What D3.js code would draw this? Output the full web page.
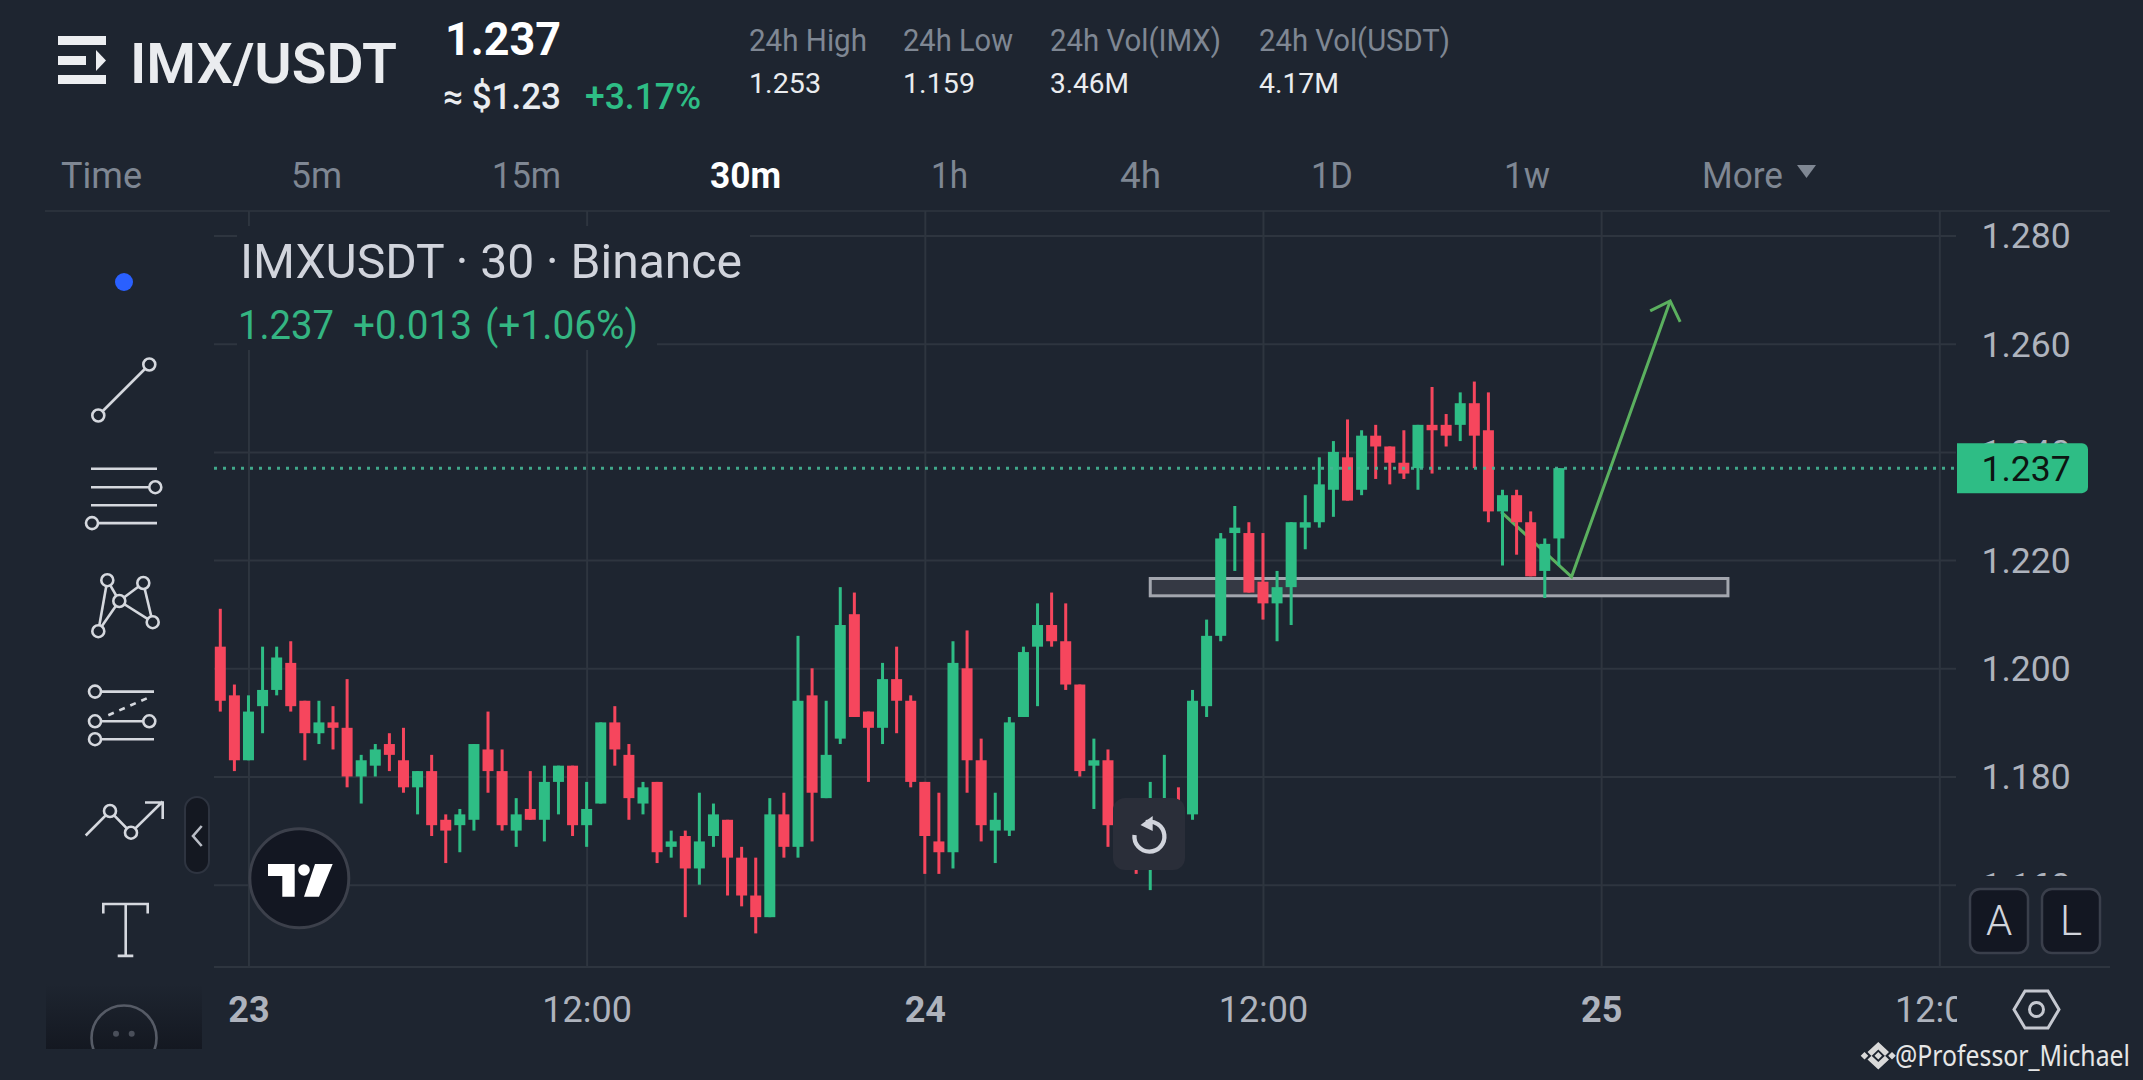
<!DOCTYPE html>
<html><head><meta charset="utf-8">
<style>html,body{margin:0;padding:0;background:#1e2530;overflow:hidden}svg{display:block}</style>
<script src="https://cdn.jsdelivr.net/npm/d3@7/dist/d3.min.js"></script>
</head><body><svg id="c" width="2143" height="1080"></svg>
<script>
const opens=[1.204,1.195,1.183,1.193,1.196,1.201,1.194,1.188,1.190,1.189,
1.180,1.182,1.186,1.183,1.178,1.181,1.172,1.171,1.172,1.185,
1.181,1.170,1.174,1.172,1.179,1.182,1.171,1.175,1.190,1.184,
1.175,1.179,1.167,1.169,1.163,1.169,1.172,1.165,1.158,1.154,
1.173,1.167,1.195,1.176,1.187,1.210,1.192,1.189,1.198,1.194,
1.179,1.168,1.166,1.200,1.183,1.170,1.170,1.191,1.204,1.208,
1.205,1.197,1.182,1.183,1.171,1.174,1.166,1.171,1.174,1.173,
1.193,1.206,1.225,1.225,1.216,1.212,1.215,1.226,1.227,1.233,
1.239,1.233,1.243,1.241,1.238,1.237,1.245,1.245,1.245,1.249,
1.244,1.229,1.232,1.227,1.218,1.224];
const closes=[1.194,1.183,1.192,1.196,1.202,1.193,1.188,1.190,1.189,1.180,
1.183,1.185,1.184,1.178,1.181,1.171,1.170,1.173,1.186,1.181,
1.171,1.173,1.172,1.179,1.182,1.171,1.174,1.190,1.185,1.176,
1.178,1.166,1.168,1.163,1.168,1.173,1.165,1.158,1.154,1.173,
1.167,1.194,1.177,1.184,1.208,1.191,1.189,1.198,1.194,1.179,
1.169,1.166,1.201,1.183,1.171,1.172,1.190,1.203,1.208,1.205,
1.197,1.181,1.183,1.171,1.174,1.166,1.172,1.175,1.172,1.194,
1.206,1.224,1.226,1.214,1.212,1.215,1.227,1.227,1.234,1.240,
1.231,1.243,1.241,1.238,1.236,1.245,1.244,1.243,1.249,1.243,
1.229,1.232,1.227,1.217,1.223,1.237];
const highs=[1.211,1.197,1.195,1.204,1.204,1.205,1.194,1.194,1.193,1.198,
1.184,1.186,1.188,1.189,1.181,1.184,1.173,1.174,1.186,1.192,
1.185,1.176,1.181,1.182,1.182,1.182,1.179,1.190,1.193,1.186,
1.179,1.179,1.170,1.170,1.177,1.175,1.172,1.167,1.165,1.176,
1.177,1.206,1.200,1.194,1.215,1.214,1.192,1.201,1.204,1.195,
1.179,1.177,1.205,1.207,1.187,1.177,1.191,1.204,1.212,1.214,
1.212,1.197,1.187,1.185,1.175,1.175,1.179,1.184,1.178,1.196,
1.209,1.225,1.230,1.227,1.225,1.218,1.227,1.232,1.239,1.242,
1.246,1.244,1.245,1.241,1.244,1.245,1.252,1.247,1.251,1.253,
1.251,1.233,1.233,1.229,1.224,1.237];
const lows=[1.192,1.181,1.183,1.188,1.195,1.192,1.183,1.186,1.185,1.178,
1.175,1.180,1.181,1.177,1.173,1.169,1.164,1.166,1.170,1.177,
1.170,1.167,1.172,1.168,1.173,1.169,1.167,1.175,1.182,1.172,
1.173,1.164,1.165,1.154,1.160,1.167,1.158,1.156,1.151,1.154,
1.165,1.165,1.168,1.176,1.186,1.191,1.179,1.186,1.188,1.178,
1.162,1.162,1.163,1.177,1.168,1.164,1.169,1.191,1.193,1.204,
1.196,1.180,1.174,1.167,1.168,1.162,1.159,1.168,1.170,1.172,
1.191,1.205,1.218,1.214,1.209,1.205,1.208,1.222,1.226,1.228,
1.231,1.232,1.235,1.234,1.235,1.233,1.236,1.241,1.242,1.237,
1.227,1.219,1.221,1.217,1.213,1.219];
const priceTicks=[1.16,1.18,1.20,1.22,1.24,1.26,1.28];
const timeTicks=[2,26,50,74,98,122];
const timeLabels=["23","12:00","24","12:00","25","12:00"];
const lastPrice=1.237;
const zoneBars=[66,107];
const zonePrices=[1.2166,1.2134];
const pathBars=[90.9,95.9,102.9];
const pathPrices=[1.2289,1.2169,1.2679];

const UP="#2ebd85",DOWN="#f6465d",BG="#1e2530",GRID="#2e353f",INK="#d1d4dc",MUTED="#7f8793",AXIS="#aeb3bd",DARK="#131722";
const svg=d3.select("#c");
const x=d3.scaleLinear().domain([0,122]).range([220.3,1939.3]);
const y=d3.scaleLinear().domain([1.16,1.28]).range([884.7,235.5]);
const rowIdx=d3.range(opens.length);

svg.append("rect").attr("width",2143).attr("height",1080).attr("fill",BG);
const defs=svg.append("defs");
defs.append("clipPath").attr("id","xclip").append("rect").attr("x",0).attr("y",975).attr("width",1957).attr("height",70);
defs.append("clipPath").attr("id","yclip").append("rect").attr("x",1957).attr("y",212).attr("width",186).attr("height",664);
const g=defs.append("linearGradient").attr("id","fade").attr("x1",0).attr("x2",0).attr("y1",0).attr("y2",1);
g.append("stop").attr("offset",0).attr("stop-color",BG);
g.append("stop").attr("offset",1).attr("stop-color","#141821");

function T(px,py,s,size,color,o={}){
  const t=svg.append("text").attr("x",o.len?px-1:px).attr("y",py).text(s).attr("font-family",o.family||"Roboto, sans-serif")
   .attr("font-size",size).attr("fill",color).attr("font-weight",o.weight||400).attr("text-anchor",o.anchor||"start");
  if(o.len){t.attr("textLength",o.len+2).attr("lengthAdjust","spacingAndGlyphs");}
  return t;
}

// separator rules
svg.append("line").attr("x1",45).attr("x2",2110).attr("y1",211).attr("y2",211).attr("stroke","#2a313b").attr("stroke-width",2);
svg.append("line").attr("x1",214).attr("x2",2110).attr("y1",967).attr("y2",967).attr("stroke",GRID).attr("stroke-width",2);

// axes with grid
const gy=svg.append("g").attr("transform","translate(1956,0)")
 .call(d3.axisLeft(y).tickValues(priceTicks).tickSize(1742).tickFormat(d3.format(".3f")));
gy.select(".domain").remove();
gy.selectAll("line").attr("stroke",GRID).attr("stroke-width",2);
gy.selectAll("text").remove();
const gx=svg.append("g").attr("transform","translate(0,967)")
 .call(d3.axisTop(x).tickValues(timeTicks).tickSize(756).tickFormat(""));
gx.select(".domain").remove();
gx.selectAll("line").attr("stroke",GRID).attr("stroke-width",2);
gx.selectAll("text").remove();

const gyl=svg.append("g").attr("clip-path","url(#yclip)").append("g").attr("transform","translate(1981.5,0)")
 .call(d3.axisRight(y).tickValues(priceTicks).tickSize(0).tickPadding(0).tickFormat(d3.format(".3f")));
gyl.select(".domain").remove();
gyl.selectAll("text").attr("font-family","Roboto, sans-serif").attr("font-size",35.5).attr("fill",AXIS).attr("dy","0.35em");
const gxl=svg.append("g").attr("clip-path","url(#xclip)").append("g").attr("transform","translate(0,1021.5)")
 .call(d3.axisBottom(x).tickValues(timeTicks).tickSize(0).tickPadding(0).tickFormat((d,i)=>timeLabels[i]));
gxl.select(".domain").remove();
gxl.selectAll("text").attr("font-family","Roboto, sans-serif").attr("font-size",36).attr("fill",AXIS).attr("dy",0)
 .attr("font-weight",(d,i)=>timeLabels[i].length===2?700:400);

// legend plate hides grid behind the title
svg.append("rect").attr("x",237).attr("y",226).attr("width",513).attr("height",66).attr("fill",BG);
svg.append("rect").attr("x",237).attr("y",292).attr("width",420).attr("height",58).attr("fill",BG);

// zone and drawn path under candles
svg.append("rect").attr("x",x(zoneBars[0])).attr("y",y(zonePrices[0]))
 .attr("width",x(zoneBars[1])-x(zoneBars[0])).attr("height",y(zonePrices[1])-y(zonePrices[0]))
 .attr("fill","#353944").attr("stroke","#a3a6ae").attr("stroke-width",3);
const pathPts=pathBars.map((b,i)=>[x(b),y(pathPrices[i])]);
svg.append("path").attr("d",d3.line()(pathPts)).attr("fill","none").attr("stroke","#5bb05f").attr("stroke-width",3);
const tip=pathPts[2];
svg.append("path").attr("d",d3.line()([[tip[0]-20,tip[1]+10],tip,[tip[0]+10,tip[1]+21]])).attr("fill","none").attr("stroke","#5bb05f").attr("stroke-width",3);

// candles
const candle=svg.append("g").selectAll("g").data(rowIdx).join("g")
 .attr("fill",i=>closes[i]>=opens[i]?UP:DOWN);
candle.append("rect").attr("x",i=>x(i)-1.5).attr("width",3)
 .attr("y",i=>y(highs[i])).attr("height",i=>y(lows[i])-y(highs[i]));
candle.append("rect").attr("x",i=>x(i)-5.5).attr("width",11)
 .attr("y",i=>y(Math.max(opens[i],closes[i]))).attr("height",i=>Math.max(3,y(Math.min(opens[i],closes[i]))-y(Math.max(opens[i],closes[i]))));

// last price line and tag
svg.append("line").attr("x1",214).attr("x2",1956).attr("y1",y(lastPrice)).attr("y2",y(lastPrice))
 .attr("stroke","#45b795").attr("stroke-opacity",.9).attr("stroke-width",3).attr("stroke-dasharray","3 6");
const ly=y(lastPrice);
svg.append("path").attr("d",`M1957 ${ly-25}H2082a6 6 0 0 1 6 6V${ly+19}a6 6 0 0 1 -6 6H1957Z`).attr("fill",UP);
T(1981.5,ly+12.5,d3.format(".3f")(lastPrice),35.5,"#0d1512");

// header
const hd=svg.append("g").attr("fill","#eceef1");
hd.append("rect").attr("x",58).attr("y",36).attr("width",48).attr("height",9);
hd.append("rect").attr("x",58).attr("y",56).attr("width",28).attr("height",9);
hd.append("rect").attr("x",58).attr("y",75).attr("width",48).attr("height",9);
hd.append("path").attr("d","M96 50L106 60.5L96 71Z");
T(131,83,"IMX/USDT",56,"#eaecef",{weight:600,len:265});
T(446,55,"1.237",47,"#ffffff",{weight:700,len:114});
T(444,109,"≈ $1.23",36,"#eaecef",{weight:500,len:116});
T(586,109,"+3.17%",36,UP,{weight:500,len:114});
[["24h High",750,116],["24h Low",904,108],["24h Vol(IMX)",1051,169],["24h Vol(USDT)",1260,189]].forEach(d=>T(d[1],51,d[0],32,MUTED,{len:d[2]}));
[["1.253",750,70],["1.159",904,70],["3.46M",1051,77],["4.17M",1260,78]].forEach(d=>T(d[1],93,d[0],28.5,"#eaecef",{len:d[2]}));
[["Time",62,79],["5m",292,49],["15m",493,67],["1h",932,35],["4h",1121,39],["1D",1312,40],["1w",1505,44],["More",1703,79]].forEach(d=>T(d[1],187.5,d[0],36,MUTED,{len:d[2]}));
T(711,187.5,"30m",36,"#ffffff",{weight:700,len:69});
svg.append("path").attr("d","M1797 165H1816L1806.5 178Z").attr("fill",MUTED);

// legend
T(241,278,"IMXUSDT · 30 · Binance",48,"#d1d4dc",{len:500});
const LG="#34b582";
T(239,339,"1.237",40,LG,{len:94});
T(354,339,"+0.013",40,LG,{len:117});
T(486,339,"(+1.06%)",40,LG,{len:151});

// toolbar
svg.append("circle").attr("cx",124).attr("cy",282).attr("r",9).attr("fill","#2a60ff");
const tb=svg.append("g").attr("fill","none").attr("stroke","#d5d8de").attr("stroke-width",2.6);
const seg=(a,b,c,d,o)=>{const l=tb.append("line").attr("x1",a).attr("y1",b).attr("x2",c).attr("y2",d);if(o)l.attr("stroke-dasharray",o);return l;};
const dot=(a,b,r)=>tb.append("circle").attr("cx",a).attr("cy",b).attr("r",r||6).attr("fill",BG);
seg(98.3,415.5,149.3,364.5);dot(98.3,415.5);dot(149.3,364.5);
seg(91,468.8,157,468.8);seg(91,487.2,157,487.2);seg(91,505.2,157,505.2);seg(92,523.1,157,523.1);dot(155.3,487.2);dot(92,523.1);
[[107.3,580.2,98.3,631.2],[107.3,580.2,119.3,601],[119.3,601,98.3,631.2],[119.3,601,143.3,583],[119.3,601,152.7,622.2],[143.3,583,152.7,622.2]].forEach(s=>seg(...s));
[[107.3,580.2],[143.3,583],[119.3,601],[98.3,631.2],[152.7,622.2]].forEach(p=>dot(p[0],p[1]));
seg(95,691.6,154,691.6);seg(95,721.3,154,721.3);seg(95,739.2,154,739.2);seg(108.3,715.2,149.3,697.2,"6 6");
dot(95,691.6);dot(95,721.3);dot(149.3,721.3);dot(95,739.2);
tb.append("path").attr("d","M85.7 835.5L110 811L131 832.7L162.7 801.5M145 802.5H162.7V819");dot(110,811);dot(131,832.7);
tb.append("path").attr("d","M103.3 913.4V904H147.7V913.4M125.7 904V955.9M117.7 955.9H133.3");
svg.append("rect").attr("x",46).attr("y",984).attr("width",156).attr("height",65).attr("fill","url(#fade)");
defs.append("clipPath").attr("id","moreclip").append("rect").attr("x",46).attr("y",984).attr("width",156).attr("height",65);
const more=svg.append("g").attr("clip-path","url(#moreclip)");
more.append("circle").attr("cx",124).attr("cy",1038).attr("r",32.5).attr("fill","none").attr("stroke","#565b66").attr("stroke-width",2.6);
more.append("circle").attr("cx",116).attr("cy",1033.7).attr("r",3).attr("fill","#4a4f5a");
more.append("circle").attr("cx",131.7).attr("cy",1033.7).attr("r",3).attr("fill","#4a4f5a");
svg.append("rect").attr("x",185).attr("y",797).attr("width",24).attr("height",76).attr("rx",12).attr("fill","#141821").attr("stroke","#2e3440").attr("stroke-width",2);
svg.append("path").attr("d","M201.7 826L193 836L201.7 846").attr("fill","none").attr("stroke","#b8bcc5").attr("stroke-width",2.6);

// TradingView badge
svg.append("circle").attr("cx",299.3).attr("cy",878.3).attr("r",49.5).attr("fill",DARK).attr("stroke","#3c404b").attr("stroke-width",3);
svg.append("path").attr("d","M268 864H294.7V896.7H282.3V876H268ZM315 864H332.7L319 896.7H304Z").attr("fill","#fff");
svg.append("circle").attr("cx",304).attr("cy",870).attr("r",5.8).attr("fill","#fff");

// reset button
svg.append("rect").attr("x",1113).attr("y",798).attr("width",72).attr("height",72).attr("rx",12).attr("fill","#2a2e39");
svg.append("path").attr("d","M1146 822A15 15 0 1 1 1134.5 835").attr("fill","none").attr("stroke","#d1d4dc").attr("stroke-width",4.3);
svg.append("path").attr("d","M1140.5 825L1152.7 816V831Z").attr("fill","#d1d4dc");

// A / L buttons
[[1970,"A",1999],[2042,"L",2071]].forEach(d=>{
 svg.append("rect").attr("x",d[0]).attr("y",889).attr("width",58).attr("height",64).attr("rx",10).attr("fill",DARK).attr("stroke","#3a3f4b").attr("stroke-width",2.5);
 T(d[2],934.5,d[1],42,INK,{anchor:"middle",weight:300});
});

// gear
svg.append("path").attr("d","M2014 1009.5L2025 991H2048L2059 1009.5L2048 1028H2025Z").attr("fill","none").attr("stroke","#c5c8d0").attr("stroke-width",3);
svg.append("circle").attr("cx",2036.5).attr("cy",1009.5).attr("r",7).attr("fill","none").attr("stroke","#c5c8d0").attr("stroke-width",3);

// watermark
svg.append("path").attr("fill","#d9d9d9").attr("d","M1878.3 1042L1889 1052L1885 1056L1878.3 1049.5L1871.5 1056L1867.5 1052ZM1878.3 1069.5L1867.5 1059.5L1871.5 1055.8L1878.3 1062L1885 1055.8L1889 1059.5ZM1878.3 1052L1882 1055.8L1878.3 1059.5L1874.5 1055.8ZM1864.5 1052L1868.3 1055.8L1864.5 1059.5L1860.7 1055.8ZM1892 1052L1895.8 1055.8L1892 1059.5L1888.2 1055.8Z");
T(1896,1065.5,"@Professor_Michael",29,"#e6e6e6",{family:"'Noto Sans', sans-serif",len:233});
</script></body></html>
